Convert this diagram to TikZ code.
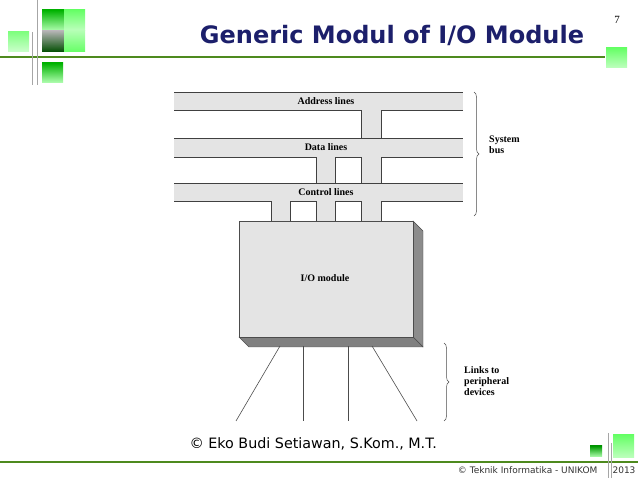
\documentclass[tikz,border=0pt]{standalone}
\usepackage{fontspec}
\setmainfont{Liberation Serif}
\newfontfamily\verd{DejaVu Sans}
\usetikzlibrary{decorations.pathreplacing}
\definecolor{busfill}{HTML}{E4E4E4}
\definecolor{navy}{HTML}{1C1F6B}
\definecolor{lgreen}{HTML}{4E8A1E}
\tikzset{bus/.style={fill=busfill,draw=none},
 edge/.style={draw=black!75,line width=0.6pt},
 lbl/.style={font=\bfseries\fontsize{10}{11}\selectfont,inner sep=0},
 sq/.style={draw=none},
 link/.style={draw=black!70,line width=0.6pt}}
\begin{document}
\begin{tikzpicture}[x=1pt,y=-1pt]
\useasboundingbox (0,0) rectangle (638,478);
% decorations top-left
\draw[lgreen,line width=1.2pt] (0,57) -- (605,57);
\draw[gray!70,line width=0.8pt] (37,0) -- (37,85);
\draw[gray!70,line width=0.8pt] (32,32) -- (32,85);
\shade[sq,top color=green!70!black,bottom color=green!30] (42,10) rectangle (64,31);
\shade[sq,top color=green!60,bottom color=green!25] (64,10) rectangle (85,31);
\shade[sq,top color=gray!60,bottom color=black!70!green] (42,31) rectangle (64,52);
\shade[sq,top color=green!30,bottom color=green!60] (64,31) rectangle (85,52);
\shade[sq,top color=green!50,bottom color=green!20] (8,32) rectangle (29,52);
\shade[sq,top color=green!70!black,bottom color=green!30] (42,63) rectangle (63,83);
\shade[sq,top color=green!60,bottom color=green!25] (606,48) rectangle (627,68);
\node[font=\verd\bfseries\fontsize{24}{26}\selectfont,text=navy] (title) at (392,35) {Generic Modul of I/O Module};
\node[font=\fontsize{11}{12}\selectfont] (pg) at (617,20) {7};
% buses
\path[bus] (174,92) rectangle (463,110);
\path[bus] (174,138) rectangle (463,157);
\path[bus] (174,183) rectangle (463,201);
\path[bus] (361,110) rectangle (381,221);
\path[bus] (316,157) rectangle (335,221);
\path[bus] (271,201) rectangle (290,221);
\draw[edge] (174,92) -- (463,92);
\draw[edge] (174,110) -- (361,110) -- (361,138);
\draw[edge] (463,110) -- (381,110) -- (381,138);
\draw[edge] (174,138) -- (463,138);
\draw[edge] (174,157) -- (316,157) -- (316,183);
\draw[edge] (335,183) -- (335,157) -- (361,157) -- (361,183);
\draw[edge] (381,183) -- (381,157) -- (463,157);
\draw[edge] (174,183) -- (463,183);
\draw[edge] (174,201) -- (271,201) -- (271,221);
\draw[edge] (290,221) -- (290,201) -- (316,201) -- (316,221);
\draw[edge] (335,221) -- (335,201) -- (361,201) -- (361,221);
\draw[edge] (381,221) -- (381,201) -- (463,201);
\node[lbl] (addr) at (326,101) {Address lines};
\node[lbl] (data) at (326,147.5) {Data lines};
\node[lbl] (ctrl) at (326,192) {Control lines};
% module
\path[fill=black!45,draw=black!70,line width=0.4pt] (413,221) -- (423,231) -- (423,347) -- (413,337) -- cycle;
\path[fill=black!50,draw=black!70,line width=0.4pt] (239,337) -- (413,337) -- (423,347) -- (249,347) -- cycle;
\node[fill=busfill,draw=black!70,line width=0.4pt,minimum width=174pt,minimum height=116pt,anchor=north west,inner sep=0] (io) at (239,221) {};
\node[lbl] at (325,278) {I/O module};
\coordinate (a1) at (280,346); \coordinate (b1) at (236,421);
\coordinate (a2) at (303,346); \coordinate (b2) at (303,421);
\coordinate (a3) at (348,346); \coordinate (b3) at (348,421);
\coordinate (a4) at (372,346); \coordinate (b4) at (417,421);
\draw[link] (a1) -- (b1); \draw[link] (a2) -- (b2);
\draw[link] (a3) -- (b3); \draw[link] (a4) -- (b4);
% braces
\draw[decorate,decoration={brace,amplitude=5pt},black!70,line width=0.5pt] (474,92) -- (474,216);
\node[lbl,align=left,anchor=west] (sb) at (489,145) {System\\bus};
\draw[decorate,decoration={brace,amplitude=5pt},black!70,line width=0.5pt] (444,343) -- (444,421);
\node[lbl,align=left,anchor=west] (lk) at (464,381) {Links to\\peripheral\\devices};
% footer
\node[font=\verd\fontsize{14.3}{15}\selectfont,anchor=west] (auth) at (186,444) {© Eko Budi Setiawan, S.Kom., M.T.};
\draw[lgreen,line width=1.2pt] (0,462) -- (638,462);
\draw[gray!70,line width=0.8pt] (608,433) -- (608,478);
\draw[gray!70,line width=0.6pt] (611,443) -- (611,478);
\shade[sq,top color=green!60!black,bottom color=green!30] (590,446) rectangle (602,457);
\shade[sq,top color=green!60,bottom color=green!25] (613,435) rectangle (634,458);
\node[font=\verd\fontsize{9}{10}\selectfont,anchor=east,text=black!80] (ti) at (601,470) {© Teknik Informatika - UNIKOM};
\node[font=\verd\fontsize{9}{10}\selectfont,text=black!80] (yr) at (624,470) {2013};
\end{tikzpicture}
\end{document}
